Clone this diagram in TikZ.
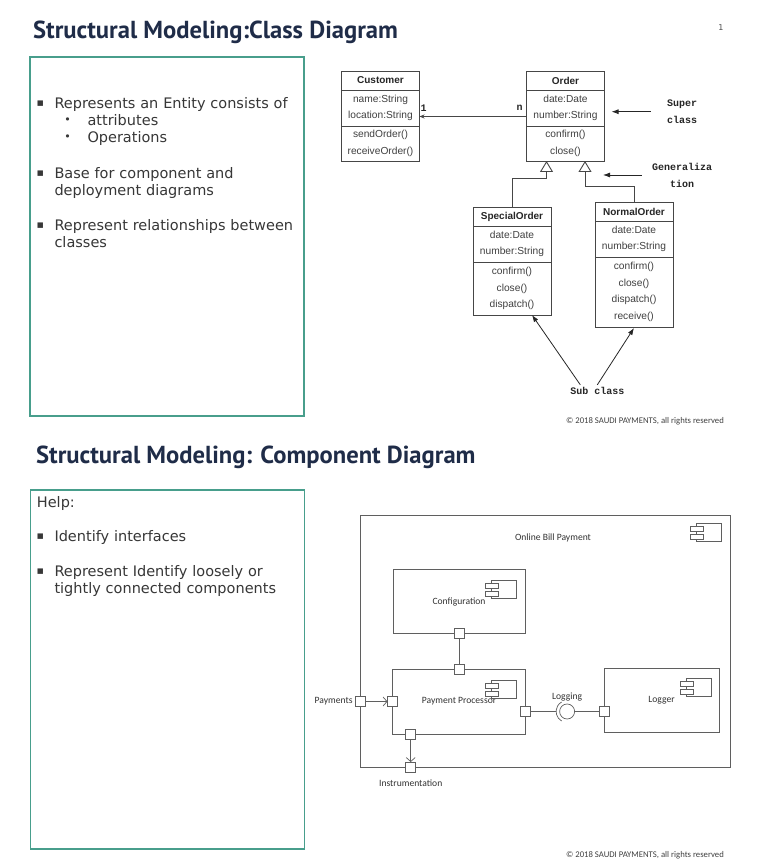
\documentclass[tikz,border=0pt]{standalone}
\usepackage{fontspec}
\setmainfont{DejaVu Sans}
\newfontfamily\ttlfont{PT Sans}
\newfontfamily\clsfont{Liberation Sans}
\newfontfamily\notefont{Liberation Mono}
\newfontfamily\cmpfont{Carlito}
\usetikzlibrary{arrows.meta,positioning,calc}
\definecolor{slidenavy}{RGB}{31,44,72}
\definecolor{slideteal}{RGB}{72,158,140}
\definecolor{slidetext}{RGB}{55,55,55}
\definecolor{umlline}{RGB}{70,70,70}
\definecolor{cmpline}{RGB}{95,95,95}
\tikzset{
  ttl/.style={font=\ttlfont\bfseries\fontsize{24.6}{28}\selectfont, text=slidenavy, anchor=west, inner sep=0pt},
  pan/.style={draw=slideteal, line width=1.1pt, minimum width=274, minimum height=359, inner sep=0pt},
  blt/.style={font=\fontsize{11}{12}\selectfont, text=slidetext, inner sep=0pt},
  sblt/.style={font=\fontsize{11}{12}\selectfont, text=slidetext, inner sep=0pt},
  btxt/.style={font=\fontsize{14.5}{17}\selectfont, text=slidetext, anchor=base west, inner sep=0pt,
               text width=250, align=left},
  cname/.style={draw=umlline, line width=0.9pt, outer sep=0pt, minimum width=78, minimum height=19,
                inner sep=0pt, font=\clsfont\bfseries\fontsize{10}{12}\selectfont, text=black!85},
  cpart/.style={draw=umlline, line width=0.9pt, outer sep=0pt, minimum width=78, inner sep=0pt,
                align=center, font=\clsfont\fontsize{10.2}{16.5}\selectfont, text=black!75},
  note/.style={font=\notefont\bfseries\fontsize{10}{17}\selectfont, text=black!85, align=center, inner sep=0pt},
  mult/.style={font=\notefont\bfseries\fontsize{10}{12}\selectfont, text=black!85, inner sep=0pt},
  assoc/.style={umlline, line width=0.8pt, -{Stealth[length=5pt, width=4pt]}},
  genarr/.style={umlline, line width=0.9pt, -{Triangle[open, length=11pt, width=13pt]}},
  ptr/.style={black!85, line width=0.8pt, -{Latex[length=7pt, width=5pt]}},
  cmpbox/.style={draw=cmpline, line width=0.8pt, outer sep=0pt, inner sep=0pt,
                 font=\cmpfont\fontsize{9.6}{11}\selectfont, text=black!80},
  cmplab/.style={font=\cmpfont\fontsize{9.6}{11}\selectfont, text=black!80, inner sep=0pt},
  port/.style={draw=cmpline, fill=white, line width=0.7pt, minimum size=10, inner sep=0pt, outer sep=0pt},
  lolli/.style={circle, draw=cmpline, fill=white, line width=0.7pt, minimum size=15, inner sep=0pt, outer sep=0pt},
  wire/.style={cmpline, line width=0.7pt},
  dep/.style={wire, -{Straight Barb[length=4pt, width=9pt]}},
  copy/.style={font=\cmpfont\fontsize{8.7}{10}\selectfont, text=black!75, inner sep=0pt},
  cmpicon/.pic={
    \draw[cmpline, line width=0.7pt, fill=white] (6,0) rectangle (31,18);
    \draw[cmpline, line width=0.7pt, fill=white] (0,3) rectangle (13,8) (0,11) rectangle (13,16);
  },
}

\begin{document}
\begin{tikzpicture}[x=1pt, y=-1pt]
  \fill[white] (0,0) rectangle (768,866);
  \useasboundingbox (0,0) rectangle (768,866);

  % slide 1: class diagram
  \node[ttl] (ttl1) at (33,32) {Structural Modeling:Class Diagram};
  \node[font=\fontsize{8}{9}\selectfont, text=black!70] (pgno) at (721,28) {1};
  \node[pan] (pan1) at (167,236.5) {};
  \foreach \n/\yy/\txt in {a/108.5/{Represents an Entity consists of},
                           b/178.5/{Base for component and\\deployment diagrams},
                           c/230.5/{Represent relationships between\\classes}}{
    \node[blt] (blt\n) at (40.3,\yy-4.8) {▪};
    \node[btxt] (txt\n) at (54.3,\yy) {\txt};
  }
  \foreach \n/\yy/\txt in {a/126/attributes, b/143/Operations}{
    \node[sblt] (sbl\n) at (67.7,\yy-5) {•};
    \node[btxt] (sub\n) at (87.3,\yy) {\txt};
  }

  \node[cname] (custN) at (380.5,80.5) {Customer};
  \node[cpart, minimum height=36, below=0pt of custN] (custA) {name:String\\location:String};
  \node[cpart, minimum height=35, below=0pt of custA] (custO) {sendOrder()\\receiveOrder()};

  \node[cname] (ordN) at (565.5,80.5) {Order};
  \node[cpart, minimum height=36, below=0pt of ordN] (ordA) {date:Date\\number:String};
  \node[cpart, minimum height=35, below=0pt of ordA] (ordO) {confirm()\\close()};

  \node[cname] (spN) at (512,216.5) {SpecialOrder};
  \node[cpart, minimum height=36, below=0pt of spN] (spA) {date:Date\\number:String};
  \node[cpart, minimum height=53, below=0pt of spA] (spO) {confirm()\\close()\\dispatch()};

  \node[cname] (nrN) at (634,211.5) {NormalOrder};
  \node[cpart, minimum height=36, below=0pt of nrN] (nrA) {date:Date\\number:String};
  \node[cpart, minimum height=70, below=0pt of nrA] (nrO) {confirm()\\close()\\dispatch()\\receive()};

  \draw[assoc] ([yshift=-8.5]ordA.west) -- ([yshift=-8.5]custA.east);
  \node[mult] (m1) at (423.5,108) {1};
  \node[mult] (mn) at (519.5,108) {n};

  \draw[genarr] (spN.north) -- ++(0,-29) -| ([xshift=-19]ordO.south);
  \draw[genarr] (nrN.north) -- ++(0,-16) -| ([xshift=19.5]ordO.south);

  \node[note] (sup) at (682,111.7) {Super\\class};
  \draw[ptr] ([xshift=-16]sup.west) -- ($(ordA.east |- sup.west)+(7,0)$);
  \node[note] (gen) at (682,175) {Generaliza\\tion};
  \draw[ptr] ([xshift=-10]gen.west) -- ($(ordO.east |- gen.west)+(-1.5,0)$);
  \node[note] (subc) at (597.3,390.7) {Sub class};
  \draw[ptr] ([xshift=-17,yshift=2]subc.north) -- ([xshift=20]spO.south);
  \draw[ptr] ([yshift=2]subc.north) -- ([yshift=-1]nrO.south);

  \node[copy] (cpy1) at (645,421) {© 2018 SAUDI PAYMENTS, all rights reserved};

  % slide 2: component diagram
  \node[ttl] (ttl2) at (36,457) {Structural Modeling: Component Diagram};
  \node[pan] (pan2) at (167.3,669.5) {};
  \node[btxt] (help) at (36.7,507.3) {Help:};
  \foreach \n/\yy/\txt in {a/541.7/{Identify interfaces},
                           b/576.7/{Represent Identify loosely or\\tightly connected components}}{
    \node[blt] (hbl\n) at (40.3,\yy-4.8) {▪};
    \node[btxt] (htx\n) at (54.3,\yy) {\txt};
  }

  \node[cmpbox, minimum width=370, minimum height=252] (obp) at (545.7,641) {};
  \node[cmplab] (obpL) at (553,538) {Online Bill Payment};
  \node[cmpbox, minimum width=132, minimum height=64, text depth=-6pt] (cfg) at (459,601) {Configuration};
  \node[cmpbox, minimum width=133, minimum height=65] (pp) at (459,701.5) {Payment Processor};
  \node[cmpbox, minimum width=115, minimum height=64] (lgr) at (661.5,700) {Logger};
  \pic at (690,523) {cmpicon};
  \pic at (485,580) {cmpicon};
  \pic at (485,680) {cmpicon};
  \pic at (680,678) {cmpicon};

  \node[port] (cfgP) at (cfg.south) {};
  \node[port] (ppT) at (pp.north) {};
  \node[port] (ppL) at (pp.west) {};
  \node[port] (payP) at (obp.west |- ppL) {};
  \node[port] (ppR) at ([yshift=-10]pp.east) {};
  \node[port] (lgP) at (lgr.west |- ppR) {};
  \node[port] (ppB) at ([xshift=-48.3]pp.south) {};
  \node[port] (insP) at (obp.south -| ppB) {};
  \node[lolli] (logI) at ($(ppR)!0.53!(lgP)$) {};

  \draw[wire] (cfgP) -- (ppT);
  \draw[dep] (payP) -- (ppL);
  \draw[dep] (ppB) -- (insP);
  \draw[wire, line width=1.2pt] (ppR) -- ($(logI.center)+(-11,0)$);
  \draw[wire] ($(logI.center)+(120:11)$) arc[start angle=120, end angle=240, radius=11];
  \draw[wire] (logI) -- (lgP);

  \node[cmplab, left=3pt of payP] (payL) {Payments};
  \node[cmplab, above=3pt of logI] (logL) {Logging};
  \node[cmplab, below=8pt of insP] (insL) {Instrumentation};

  \node[copy] (cpy2) at (645,855) {© 2018 SAUDI PAYMENTS, all rights reserved};
\end{tikzpicture}
\end{document}
